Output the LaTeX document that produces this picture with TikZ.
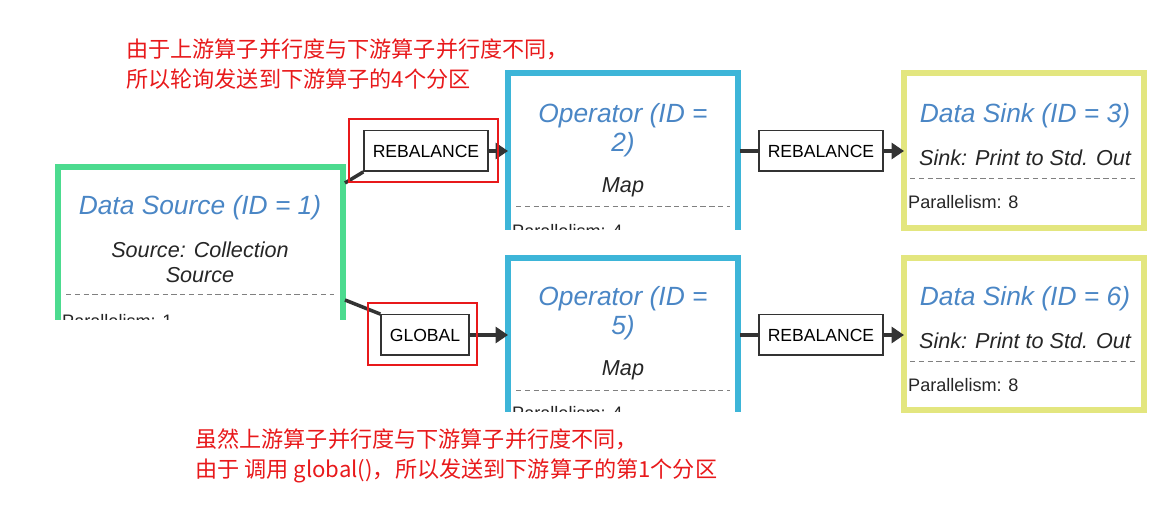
\documentclass[tikz,border=0pt]{standalone}
\usepackage{fontspec}
\setmainfont{Liberation Sans}
\newfontfamily\cjk{Noto Sans CJK SC}
\usetikzlibrary{arrows.meta}
\definecolor{srcgreen}{HTML}{4CDB8F}
\definecolor{opblue}{HTML}{3DB5D8}
\definecolor{sinkyellow}{HTML}{E3E67F}
\definecolor{titleblue}{HTML}{4A86C5}
\definecolor{edgegray}{HTML}{333333}
\definecolor{notered}{HTML}{E8191B}
\tikzset{
  title/.style={font=\itshape\fontsize{15}{16.5}\selectfont, text=titleblue, align=center},
  sub/.style={font=\itshape\fontsize{12.3}{14}\selectfont, text=black!85, align=center},
  par/.style={font=\fontsize{10.3}{12}\selectfont, text=black!85, anchor=west},
  elabel/.style={draw=edgegray, thick, font=\fontsize{10}{11}\selectfont, minimum height=23pt, inner xsep=5pt},
  edge/.style={edgegray, line width=2pt},
  arr/.style={edge, -{Triangle[length=7pt,width=9pt]}},
  redbox/.style={draw=notered, line width=1.2pt},
  note/.style={text=notered, font=\cjk\fontsize{12.6}{17}\selectfont, align=left, anchor=north west}
}
\begin{document}
\begin{tikzpicture}[x=0.02cm,y=-0.02cm]
\useasboundingbox (0,0) rectangle (1171,523);
% source
\begin{scope}
\clip (40,150) rectangle (360,320);
\draw[srcgreen, line width=3pt] (58,330) -- (58,167) -- (343,167) -- (343,330);
\node[title] (srctitle) at (200,208) {Data Source (ID = 1)};
\node[sub] (srcsub) at (200,262) {Source: Collection\\Source};
\draw[gray, densely dashed] (66,294) -- (334,294);
\node[par] (srcpar) at (56,321) {Parallelism: 1};
\end{scope}
% operators
\begin{scope}
\clip (490,60) rectangle (760,230);
\draw[opblue, line width=3pt] (508,240) -- (508,73) -- (738,73) -- (738,240);
\node[title] (op2title) at (623,130) {Operator (ID =\\2)};
\node[sub] (op2sub) at (623,187) {Map};
\draw[gray, densely dashed] (516,206) -- (730,206);
\node[par] (op2par) at (506,231) {Parallelism: 4};
\end{scope}
\begin{scope}
\clip (490,245) rectangle (760,412);
\draw[opblue, line width=3pt] (508,420) -- (508,258) -- (738,258) -- (738,420);
\node[title] (op5title) at (623,313) {Operator (ID =\\5)};
\node[sub] (op5sub) at (623,370) {Map};
\draw[gray, densely dashed] (516,390) -- (730,390);
\node[par] (op5par) at (506,413) {Parallelism: 4};
\end{scope}
% sinks
\draw[sinkyellow, line width=3pt] (904,73) rectangle (1144,228);
\node[title] (s3title) at (1025,116) {Data Sink (ID = 3)};
\node[sub] (s3sub) at (1025,158) {Sink: Print to Std. Out};
\draw[gray, densely dashed] (910,178) -- (1138,178);
\node[par] (s3par) at (902,202) {Parallelism: 8};
\draw[sinkyellow, line width=3pt] (904,258) rectangle (1144,410);
\node[title] (s6title) at (1025,299) {Data Sink (ID = 6)};
\node[sub] (s6sub) at (1025,341) {Sink: Print to Std. Out};
\draw[gray, densely dashed] (910,361) -- (1138,361);
\node[par] (s6par) at (902,385) {Parallelism: 8};
% edges
\coordinate (srcout1) at (345,183);
\coordinate (srcout2) at (345,300);
\coordinate (op2in) at (508,151);
\coordinate (op5in) at (508,335);
\coordinate (op2out) at (740,151);
\coordinate (op5out) at (740,335);
\coordinate (s3in) at (904,151);
\coordinate (s6in) at (904,335);
\node[elabel] (rb1) at (426,151) {REBALANCE};
\node[elabel] (gl) at (425,335) {GLOBAL};
\node[elabel] (rb2) at (821,151) {REBALANCE};
\node[elabel] (rb3) at (821,335) {REBALANCE};
\draw[edge] (srcout1) -- (rb1.south west);
\draw[arr] (rb1) -- (op2in);
\draw[edge] (srcout2) -- (gl.north west);
\draw[arr] (gl) -- (op5in);
\draw[edge] (op2out) -- (rb2);
\draw[arr] (rb2) -- (s3in);
\draw[edge] (op5out) -- (rb3);
\draw[arr] (rb3) -- (s6in);
% notes
\draw[redbox] (349,119) rectangle (498,182);
\draw[redbox] (368,303) rectangle (477,365);
\node[note] (note1) at (120,33) {由于上游算子并行度与下游算子并行度不同，\\所以轮询发送到下游算子的4个分区};
\node[note] (note2) at (189,423) {虽然上游算子并行度与下游算子并行度不同，\\由于 调用 global()，所以发送到下游算子的第1个分区};
\end{tikzpicture}
\end{document}
